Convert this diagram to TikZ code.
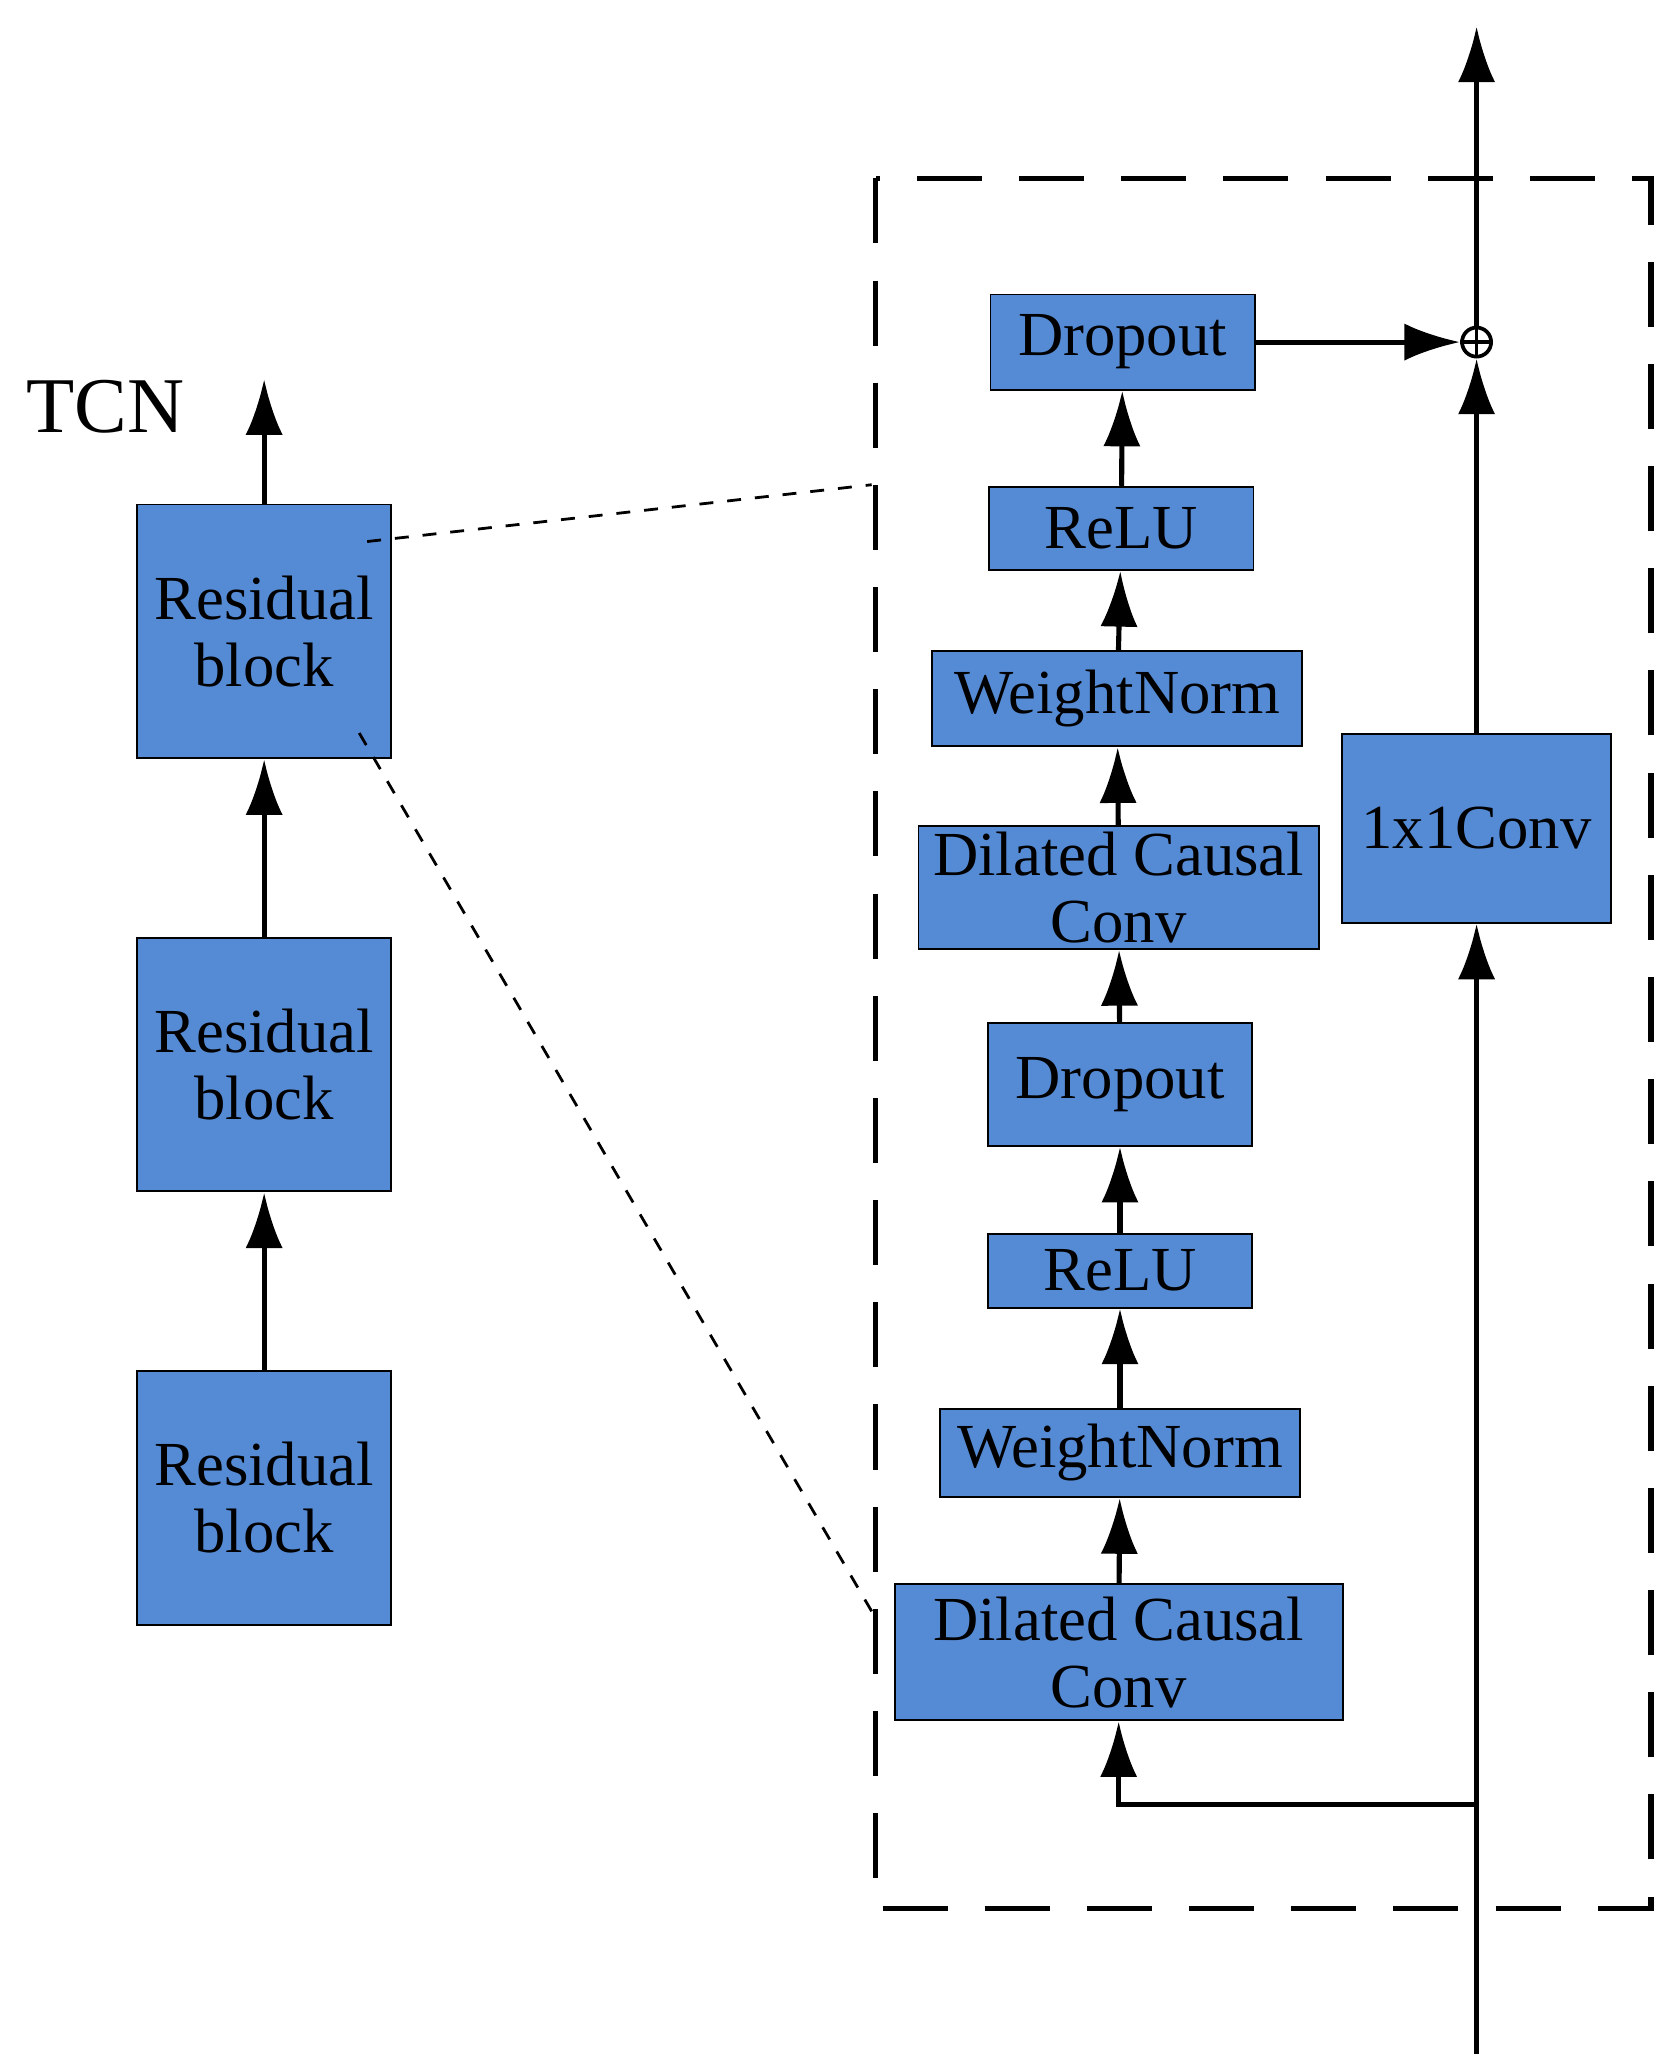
\documentclass[tikz,border=0pt]{standalone}
\usepackage{fontspec}
\setmainfont{Liberation Serif}
\usetikzlibrary{arrows.meta}
\definecolor{blockblue}{RGB}{85,138,213}
\begin{document}
\begin{tikzpicture}[x=0.01cm,y=-0.01cm]

\tikzset{blk/.style={draw=black,fill=blockblue,inner sep=0pt,align=center,font=\fontsize{13.5}{14.5}\selectfont}};
\tikzset{edge/.style={-{Latex[length=12pt,width=8pt]},line width=1.1pt}};

\useasboundingbox (0,0) rectangle (1270,1562);

% left column
\node[blk,minimum width=1.92cm,minimum height=1.92cm] (res1) at (200,478) {Residual\\block};
\node[blk,minimum width=1.92cm,minimum height=1.92cm] (res2) at (200,806) {Residual\\block};
\node[blk,minimum width=1.92cm,minimum height=1.92cm] (res3) at (200,1134) {Residual\\block};
\node[font=\fontsize{17}{20}\selectfont] (tcn) at (80,308) {TCN};
\coordinate (tcnout) at (200,287);
\draw[edge] (res3) -- (res2);
\draw[edge] (res2) -- (res1);
\draw[edge] (res1) -- (tcnout);

% residual block detail
\draw[line width=1.2pt,dash pattern=on 14pt off 8pt] (663,135) rectangle (1250,1445);
\node[blk,minimum width=2cm,minimum height=0.72cm] (drop1) at (850,259) {Dropout};
\node[blk,minimum width=2cm,minimum height=0.63cm] (relu1) at (849,400) {ReLU};
\node[blk,minimum width=2.8cm,minimum height=0.72cm] (wn1) at (846,529) {WeightNorm};
\node[blk,minimum width=3.03cm,minimum height=0.93cm] (dcc1) at (847,672) {Dilated Causal\\Conv};
\node[blk,minimum width=2cm,minimum height=0.93cm] (drop2) at (848,821) {Dropout};
\node[blk,minimum width=2cm,minimum height=0.56cm] (relu2) at (848,962) {ReLU};
\node[blk,minimum width=2.72cm,minimum height=0.67cm] (wn2) at (848,1100) {WeightNorm};
\node[blk,minimum width=3.39cm,minimum height=1.03cm] (dcc2) at (847,1251) {Dilated Causal\\Conv};
\node[blk,minimum width=2.04cm,minimum height=1.43cm] (conv) at (1118,627) {1x1Conv};
\node[draw,circle,minimum size=0.22cm,inner sep=0pt,line width=0.8pt] (sum) at (1118,259) {};
\draw[line width=0.8pt] (sum.north) -- (sum.south) (sum.west) -- (sum.east);

\coordinate (in) at (1118,1555);
\coordinate (split) at (1118,1366);
\coordinate (out) at (1118,20);
\draw[edge] (in) -- (conv);
\draw[edge] (split) -| (dcc2);
\draw[edge] (dcc2) -- (wn2);
\draw[edge] (wn2) -- (relu2);
\draw[edge] (relu2) -- (drop2);
\draw[edge] (drop2) -- (dcc1);
\draw[edge] (dcc1) -- (wn1);
\draw[edge] (wn1) -- (relu1);
\draw[edge] (relu1) -- (drop1);
\draw[edge] (drop1) -- (sum);
\draw[edge] (conv) -- (sum);
\draw[edge] (sum) -- (out);

% zoom lines
\draw[dashed,line width=0.6pt] (278,410) -- (660,367);
\draw[dashed,line width=0.6pt] (272,555) -- (660,1220);

\end{tikzpicture}
\end{document}
